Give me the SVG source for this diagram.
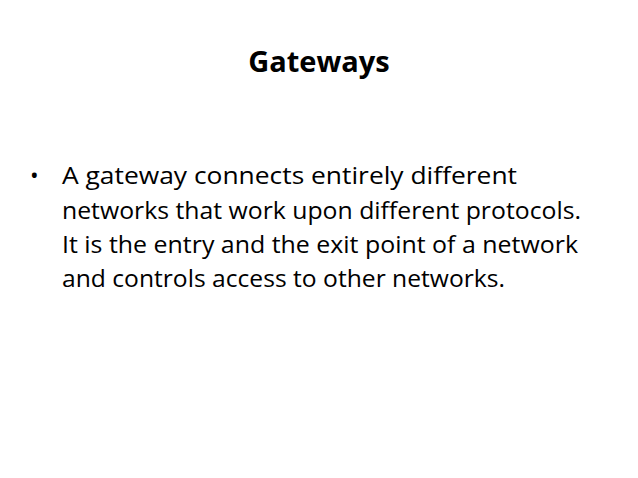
<svg xmlns="http://www.w3.org/2000/svg" width="638" height="478" viewBox="0 0 638 478">
<style>
.t{font-family:"Open Sans","Liberation Sans",sans-serif;fill:#000}
.b{font-size:23px}
</style>
<rect width="638" height="478" fill="#fff"/>
<g id="title"><text class="t" x="319" y="72" font-size="29" font-weight="bold" text-anchor="middle">Gateways</text></g>
<g id="body">
<text class="t b" x="30" y="184">•</text>
<text class="t b" x="62" y="184" textLength="455" lengthAdjust="spacingAndGlyphs">A gateway connects entirely different</text>
<text class="t b" x="62" y="219" textLength="519" lengthAdjust="spacingAndGlyphs">networks that work upon different protocols.</text>
<text class="t b" x="62" y="253" textLength="516" lengthAdjust="spacingAndGlyphs">It is the entry and the exit point of a network</text>
<text class="t b" x="62" y="287" textLength="443" lengthAdjust="spacingAndGlyphs">and controls access to other networks.</text>
</g>
</svg>
